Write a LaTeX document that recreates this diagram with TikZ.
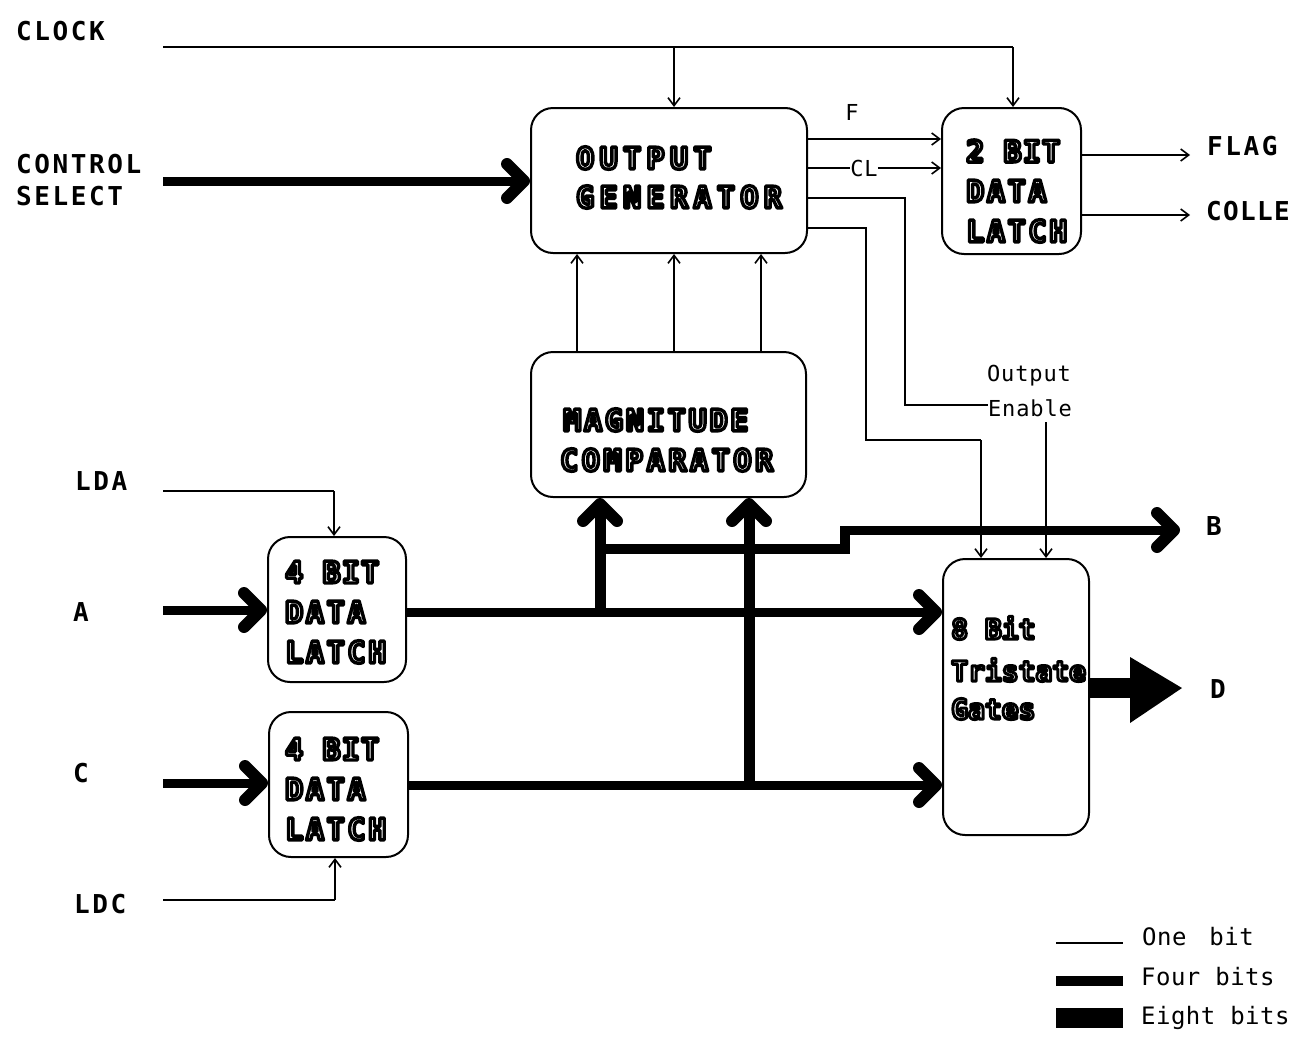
\documentclass[tikz,border=0pt]{standalone}
\usepackage{fontspec}
\usetikzlibrary{arrows.meta}
\newfontfamily\lblfont[LetterSpace=10]{DejaVu Sans Mono}
\newfontfamily\lbltight[LetterSpace=5]{DejaVu Sans Mono}
\newfontfamily\thinfont[LetterSpace=4]{DejaVu Sans Mono}
\newfontfamily\legfont[LetterSpace=2]{DejaVu Sans Mono}
\newfontfamily\blkA[LetterSpace=18]{DejaVu Sans Mono}
\newfontfamily\blkB[LetterSpace=9.5]{DejaVu Sans Mono}
\newfontfamily\blkC[LetterSpace=12]{DejaVu Sans Mono}
\newfontfamily\blkD[LetterSpace=9]{DejaVu Sans Mono}
\newfontfamily\blkE[LetterSpace=4]{DejaVu Sans Mono}
\newfontfamily\blkF[LetterSpace=0]{DejaVu Sans Mono}
\newcommand{\outl}[1]{\special{pdf:literal 2 Tr 3.4 w 1 g 0 G 1 j}#1\special{pdf:literal 0 Tr 1 w 0 g 0 G 0 j}}
\newcommand{\outlb}[1]{\special{pdf:literal 2 Tr 3 w 1 g 0 G 1 j}#1\special{pdf:literal 0 Tr 1 w 0 g 0 G 0 j}}
\tikzset{
  blockbox/.style={draw=black,line width=2pt,rounded corners=22pt,fill=white,inner sep=0pt},
  sig/.style={anchor=west,inner sep=0pt,font=\lblfont\bfseries\fontsize{26}{26}\selectfont},
  sigtight/.style={anchor=west,inner sep=0pt,font=\lbltight\bfseries\fontsize{26}{26}\selectfont},
  thinlab/.style={inner sep=0pt,font=\thinfont\fontsize{22}{22}\selectfont},
  legendlab/.style={anchor=west,inner sep=0pt,font=\legfont\fontsize{24}{24}\selectfont},
  blka/.style={anchor=west,inner sep=0pt,font=\blkA\bfseries\fontsize{30}{30}\selectfont},
  blkb/.style={anchor=west,inner sep=0pt,font=\blkB\bfseries\fontsize{30}{30}\selectfont},
  blkc/.style={anchor=west,inner sep=0pt,font=\blkC\bfseries\fontsize{30}{30}\selectfont},
  blkd/.style={anchor=west,inner sep=0pt,font=\blkD\bfseries\fontsize{30}{30}\selectfont},
  blke/.style={anchor=west,inner sep=0pt,font=\blkE\bfseries\fontsize{30}{30}\selectfont},
  blkf/.style={anchor=west,inner sep=0pt,font=\blkF\bfseries\fontsize{28}{28}\selectfont},
  one/.style={line width=1.6pt,-{Straight Barb[length=8pt,width=12pt,line width=1.6pt]}},
  oneplain/.style={line width=1.6pt},
  four/.style={line width=9pt,-{Straight Barb[length=17pt,width=34pt,line width=12pt,round]}},
  fourv/.style={line width=11pt,-{Straight Barb[length=17pt,width=34pt,line width=12pt,round]}},
  fourplain/.style={line width=10pt},
  eight/.style={line width=20pt},
  eighthead/.style={fill=black,draw=none},
}
\begin{document}
\begin{tikzpicture}[x=1pt,y=-1pt]
\useasboundingbox (0,0) rectangle (1305,1039);
% boxes
\node[blockbox,minimum width=276pt,minimum height=145pt] (og) at (669,180.5) {};
\node[blockbox,minimum width=139pt,minimum height=146pt] (dl) at (1011.5,181) {};
\node[blockbox,minimum width=275pt,minimum height=145pt] (mc) at (668.5,424.5) {};
\node[blockbox,minimum width=138pt,minimum height=145pt] (la) at (337,609.5) {};
\node[blockbox,minimum width=139pt,minimum height=145pt] (lc) at (338.5,784.5) {};
\node[blockbox,minimum width=146pt,minimum height=276pt] (tg) at (1016,697) {};
% block text
\node[blka] (t1) at (576,158) {\outl{OUTPUT}};
\node[blka] (t2) at (576,197) {\outl{GENERATOR}};
\node[blke] (t3) at (966,151) {\outl{2 BIT}};
\node[blkd] (t4) at (966,191) {\outl{DATA}};
\node[blkd] (t5) at (966,231) {\outl{LATCH}};
\node[blkb] (t6) at (563,420) {\outl{MAGNITUDE}};
\node[blkc] (t7) at (560,460) {\outl{COMPARATOR}};
\node[blke] (t8) at (285,572) {\outl{4 BIT}};
\node[blkd] (t9) at (285,612) {\outl{DATA}};
\node[blkd] (t10) at (285,652) {\outl{LATCH}};
\node[blke] (t11) at (285,749) {\outl{4 BIT}};
\node[blkd] (t12) at (285,789) {\outl{DATA}};
\node[blkd] (t13) at (285,829) {\outl{LATCH}};
\node[blkf] (t14) at (951,628) {\outlb{8 Bit}};
\node[blkf] (t15) at (951,670) {\outlb{Tristate}};
\node[blkf] (t16) at (951,709) {\outlb{Gates}};
% signal labels
\node[sig] (clock) at (16,31) {CLOCK};
\node[sig] (ctrl) at (16,164) {CONTROL};
\node[sig] (sel) at (16,196) {SELECT};
\node[sig] (lda) at (75,481) {LDA};
\node[sig] (a) at (73,612) {A};
\node[sig] (c) at (73,773) {C};
\node[sig] (ldc) at (74,904) {LDC};
\node[sig] (flag) at (1207,146) {FLAG};
\node[sigtight] (colle) at (1206,211) {COLLE};
\node[sig] (b) at (1206,526) {B};
\node[sig] (d) at (1210,689) {D};
\node[thinlab] (f) at (852,112) {F};
\node[thinlab,minimum height=24pt] (cl) at (864,168) {CL};
\node[thinlab] (oe1) at (1029,376) {Output};
\node[thinlab] (oe2) at (1030,408) {Enable};
% free ends
\coordinate (clkS) at (163,47);
\coordinate (clkT) at (1013,47);
\coordinate (clkM) at (674,47);
\coordinate (csS) at (163,181);
\coordinate (ldaS) at (163,491);
\coordinate (ldaM) at (334,491);
\coordinate (ldcS) at (163,900);
\coordinate (ldcM) at (335,900);
\coordinate (aS) at (163,610);
\coordinate (cS) at (163,783);
\coordinate (flagE) at (1190,155);
\coordinate (colleE) at (1190,215);
\coordinate (j1) at (600,612);
\coordinate (j2) at (749,785);
\coordinate (j3) at (600,549);
\coordinate (s1) at (845,549);
\coordinate (s2) at (845,530);
\coordinate (bE) at (1180,530);
\coordinate (oeA) at (905,198);
\coordinate (oeB) at (905,405);
\coordinate (teA) at (866,228);
\coordinate (teB) at (866,440);
\coordinate (teC) at (981,440);
\coordinate (enS) at (1046,422);
\coordinate (d0) at (1132,688);
% thin connectors
\draw[oneplain] (clkS) -- (clkT);
\draw[one] (clkM) -- (clkM |- og.north);
\draw[one] (clkT) -- (clkT |- dl.north);
\draw[one] ([yshift=41.5pt]og.east) -- ([yshift=41.5pt]og.east -| dl.west);
\draw[oneplain] (cl.center -| og.east) -- (cl.west);
\draw[one] (cl.east) -- (cl.east -| dl.west);
\draw[oneplain] (oeA -| og.east) -- (oeA) -- (oeB) -- (oeB -| oe2.west);
\draw[oneplain] (teA -| og.east) -- (teA) -- (teB) -- (teC);
\draw[one] ([xshift=-91.5pt]mc.north) -- ([xshift=-91.5pt]mc.north |- og.south);
\draw[one] ([xshift=5.5pt]mc.north) -- ([xshift=5.5pt]mc.north |- og.south);
\draw[one] ([xshift=92.5pt]mc.north) -- ([xshift=92.5pt]mc.north |- og.south);
\draw[one] (flagE -| dl.east) -- (flagE);
\draw[one] (colleE -| dl.east) -- (colleE);
\draw[oneplain] (ldaS) -- (ldaM);
\draw[one] (ldaM) -- (ldaM |- la.north);
\draw[oneplain] (ldcS) -- (ldcM);
\draw[one] (ldcM) -- (ldcM |- lc.south);
% four-bit buses
\draw[four] (csS) -- (csS -| og.west);
\draw[four] (aS) -- (aS -| la.west);
\draw[four] (cS) -- (cS -| lc.west);
\draw[four] (j1 -| la.east) -- (j1 -| tg.west);
\draw[four] (j2 -| lc.east) -- (j2 -| tg.west);
\draw[fourv] (j1) -- (j1 |- mc.south);
\draw[fourv] (j2) -- (j2 |- mc.south);
\draw[fourplain] (j3) -- (s1) -- (s2);
\draw[four] ([xshift=-5pt]s2) -- (bE);
% thin connectors crossing the bus
\draw[one] (teC) -- (teC |- tg.north);
\draw[one] (enS) -- (enS |- tg.north);
% eight-bit output
\draw[eight] (d0 -| tg.east) -- (d0);
\fill[eighthead] (1130,657) -- (1182,688) -- (1130,723) -- cycle;
% legend
\node[legendlab] (l1) at (1142,937) {One\hspace{8pt} bit};
\node[legendlab] (l2) at (1141,977) {Four bits};
\node[legendlab] (l3) at (1141,1018) {Eight bits};
\coordinate (k1a) at (1056,943);
\coordinate (k1b) at (1123,943);
\coordinate (k2a) at (1056,981);
\coordinate (k2b) at (1123,981);
\coordinate (k3a) at (1056,1018);
\coordinate (k3b) at (1123,1018);
\draw[oneplain] (k1a) -- (k1b);
\draw[line width=10pt] (k2a) -- (k2b);
\draw[line width=20pt] (k3a) -- (k3b);
\end{tikzpicture}
\end{document}
